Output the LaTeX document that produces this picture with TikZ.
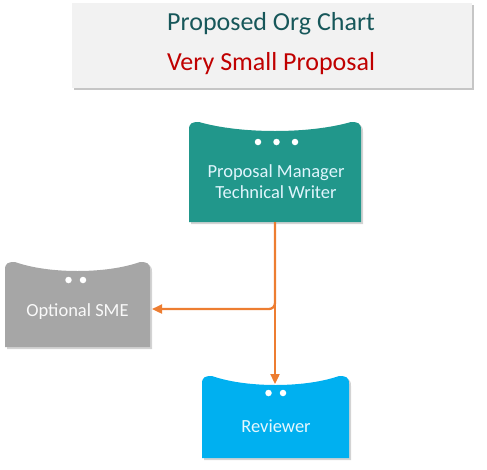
\documentclass[tikz,border=0pt]{standalone}
\usepackage{fontspec}
\setmainfont{Carlito}
\usetikzlibrary{arrows.meta,shadows}
\definecolor{tealc}{HTML}{21978B}
\definecolor{titleteal}{HTML}{17575A}
\definecolor{titlered}{HTML}{C00000}
\definecolor{grayc}{HTML}{A6A6A6}
\definecolor{bluec}{HTML}{00B0F0}
\definecolor{orangec}{HTML}{ED7D31}
\definecolor{boxbg}{HTML}{F2F2F2}
\newcommand\cardpath[5]{%
  \fill[#5, drop shadow={opacity=0.35, shadow xshift=2pt, shadow yshift=-2pt}]
    (#1,#4) -- (#1,{#2+8}) .. controls (#1,{#2+1}) and ({#1+3},#2) .. ({#1+10},#2)
    .. controls ({#1+0.3*(#3-#1)},{#2+12}) and ({#3-0.3*(#3-#1)},{#2+12}) .. ({#3-10},#2)
    .. controls ({#3-3},#2) and (#3,{#2+1}) .. (#3,{#2+8}) -- (#3,#4) -- cycle;}
\begin{document}
\begin{tikzpicture}[x=1pt,y=-1pt,
  bodybox/.style={minimum width=#1, inner sep=0pt, outer sep=0pt},
  cardtext/.style={font=\fontsize{18.5}{21}\selectfont, align=center},
  titletext/.style={font=\fontsize{26}{30}\selectfont},
  dot/.style={circle, fill=white, inner sep=0pt, minimum size=6.5pt},
  conn/.style={draw=orangec, line width=2.3pt, -{Triangle[length=10pt,width=9pt]}, rounded corners=6pt}]
\useasboundingbox (0,0) rectangle (487,469);
% title box
\node[fill=boxbg, minimum width=400pt, minimum height=85pt, inner sep=0pt,
  drop shadow={opacity=0.45, shadow xshift=1.5pt, shadow yshift=-2pt}] (title) at (272,45.5) {};
\node[titletext, text=titleteal] (t1) at (271,24) {Proposed Org Chart};
\node[titletext, text=titlered] (t2) at (271,64) {Very Small Proposal};
% cards
\cardpath{189}{122}{361}{222}{tealc}
\node[bodybox=172pt, minimum height=92pt] (pm) at (275,176) {};
\node[cardtext, text=white!88!cyan] (pmtext) at (276,182) {Proposal Manager\\Technical Writer};
\node[dot] (pmd1) at (258,142) {};
\node[dot] (pmd2) at (276.5,142) {};
\node[dot] (pmd3) at (295,142) {};

\cardpath{5}{262}{150}{347}{grayc}
\node[bodybox=145pt, minimum height=78pt] (sme) at (77.5,309) {};
\node[cardtext, text=white!95!gray] (smetext) at (77.5,312) {Optional SME};
\node[dot] (smed1) at (68.5,280) {};
\node[dot] (smed2) at (83,280) {};

\cardpath{202}{376}{349}{458}{bluec}
\node[bodybox=147pt, minimum height=74pt] (rev) at (275.5,421) {};
\node[cardtext, text=white!90!cyan] (revtext) at (276,426) {Reviewer};
\node[dot] (revd1) at (268.5,393) {};
\node[dot] (revd2) at (283,393) {};
% connectors
\draw[conn] (pm.south) -- (pm.south |- rev.north);
\draw[conn] (pm.south) -- (pm.south |- sme.east) -- ([xshift=2pt]sme.east);
\end{tikzpicture}
\end{document}
